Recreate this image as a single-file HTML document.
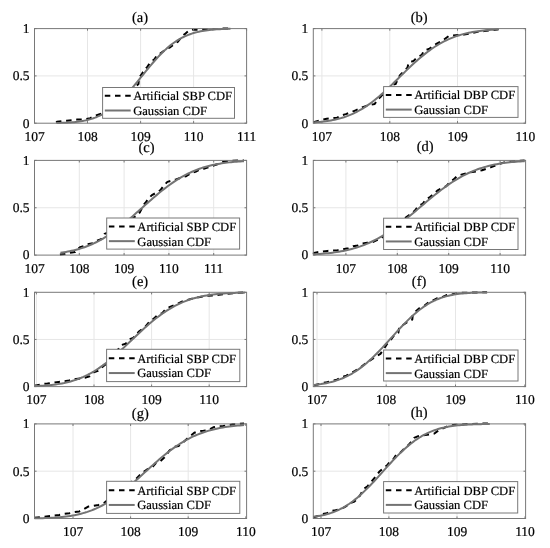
<!DOCTYPE html>
<html><head><meta charset="utf-8"><title>CDF comparison</title>
<style>
html,body{margin:0;padding:0;background:#fff;}
svg{display:block;}
text{font-family:"Liberation Serif","Times New Roman",serif;fill:#000;text-rendering:geometricPrecision;stroke:#000;stroke-width:0.2px;}
.tk{font-size:13.5px;}
.tt{font-size:14.5px;}
.lg{font-size:12.6px;}
</style></head><body>
<svg width="550" height="548" viewBox="0 0 550 548">
<rect width="550" height="548" fill="#fff"/>
<g>
<line x1="87.5" y1="28.6" x2="87.5" y2="123.2" stroke="#e6e6e6" stroke-width="1"/>
<line x1="140.6" y1="28.6" x2="140.6" y2="123.2" stroke="#e6e6e6" stroke-width="1"/>
<line x1="193.6" y1="28.6" x2="193.6" y2="123.2" stroke="#e6e6e6" stroke-width="1"/>
<line x1="34.5" y1="75.9" x2="246.6" y2="75.9" stroke="#e6e6e6" stroke-width="1"/>
<polyline points="56.4,122.6 56.9,121.8 61.8,121.1 66.7,120.8 72.1,120.3 77,119.6 82.4,119.6 90.3,118.2 92.2,117.2 96.7,115.2 101.1,113.7 112,105 124,95.5 133,88.5 136.6,85.7 138.5,83.9 138.9,78 141.6,74.4 144.4,69.8 147.5,66.6 150.3,62.5 154.4,59.4 157.1,55.3 159.8,53.9 163,51.5 167.1,48.4 169.8,47.6 175.2,43.1 177.7,41.8 182.8,35.5 184.7,34.2 188.5,31 192.4,29.7 199.4,29.7 203.2,29.3 208.3,29.3 213.4,29.1 219.7,28.8 224.2,28.5 230,28.5" fill="none" stroke="#000" stroke-width="2" stroke-dasharray="5.5 4.7" stroke-linejoin="round"/>
<polyline points="56.4,123.01 58.16,122.97 59.92,122.93 61.68,122.87 63.43,122.81 65.19,122.73 66.95,122.64 68.71,122.54 70.47,122.42 72.23,122.29 73.99,122.13 75.74,121.95 77.5,121.75 79.26,121.51 81.02,121.25 82.78,120.95 84.54,120.61 86.3,120.24 88.05,119.82 89.81,119.35 91.57,118.84 93.33,118.27 95.09,117.64 96.85,116.95 98.61,116.2 100.36,115.38 102.12,114.5 103.88,113.54 105.64,112.51 107.4,111.4 109.16,110.22 110.92,108.95 112.67,107.62 114.43,106.2 116.19,104.7 117.95,103.14 119.71,101.49 121.47,99.78 123.23,97.99 124.98,96.15 126.74,94.24 128.5,92.28 130.26,90.26 132.02,88.21 133.78,86.11 135.54,83.98 137.29,81.83 139.05,79.66 140.81,77.48 142.57,75.3 144.33,73.12 146.09,70.95 147.85,68.8 149.61,66.67 151.36,64.58 153.12,62.52 154.88,60.51 156.64,58.55 158.4,56.64 160.16,54.79 161.92,53.01 163.67,51.29 165.43,49.64 167.19,48.07 168.95,46.57 170.71,45.14 172.47,43.79 174.23,42.51 175.98,41.31 177.74,40.18 179.5,39.13 181.26,38.14 183.02,37.23 184.78,36.38 186.54,35.6 188.29,34.88 190.05,34.22 191.81,33.62 193.57,33.07 195.33,32.57 197.09,32.11 198.85,31.7 200.6,31.33 202.36,31 204.12,30.7 205.88,30.44 207.64,30.2 209.4,29.99 211.16,29.81 212.91,29.64 214.67,29.5 216.43,29.37 218.19,29.26 219.95,29.17 221.71,29.08 223.47,29.01 225.22,28.95 226.98,28.9 228.74,28.85 230.5,28.81" fill="none" stroke="#737373" stroke-width="2" stroke-linejoin="round"/>
<rect x="34.5" y="28.6" width="212.1" height="94.6" fill="none" stroke="#787878" stroke-width="1"/>
<line x1="34.5" y1="123.2" x2="34.5" y2="121.1" stroke="#787878" stroke-width="1"/>
<line x1="34.5" y1="28.6" x2="34.5" y2="30.7" stroke="#787878" stroke-width="1"/>
<line x1="87.5" y1="123.2" x2="87.5" y2="121.1" stroke="#787878" stroke-width="1"/>
<line x1="87.5" y1="28.6" x2="87.5" y2="30.7" stroke="#787878" stroke-width="1"/>
<line x1="140.6" y1="123.2" x2="140.6" y2="121.1" stroke="#787878" stroke-width="1"/>
<line x1="140.6" y1="28.6" x2="140.6" y2="30.7" stroke="#787878" stroke-width="1"/>
<line x1="193.6" y1="123.2" x2="193.6" y2="121.1" stroke="#787878" stroke-width="1"/>
<line x1="193.6" y1="28.6" x2="193.6" y2="30.7" stroke="#787878" stroke-width="1"/>
<line x1="246.6" y1="123.2" x2="246.6" y2="121.1" stroke="#787878" stroke-width="1"/>
<line x1="246.6" y1="28.6" x2="246.6" y2="30.7" stroke="#787878" stroke-width="1"/>
<line x1="34.5" y1="28.6" x2="36.6" y2="28.6" stroke="#787878" stroke-width="1"/>
<line x1="246.6" y1="28.6" x2="244.5" y2="28.6" stroke="#787878" stroke-width="1"/>
<line x1="34.5" y1="75.9" x2="36.6" y2="75.9" stroke="#787878" stroke-width="1"/>
<line x1="246.6" y1="75.9" x2="244.5" y2="75.9" stroke="#787878" stroke-width="1"/>
<line x1="34.5" y1="123.2" x2="36.6" y2="123.2" stroke="#787878" stroke-width="1"/>
<line x1="246.6" y1="123.2" x2="244.5" y2="123.2" stroke="#787878" stroke-width="1"/>
<text class="tk" x="34.5" y="140.8" text-anchor="middle">107</text>
<text class="tk" x="87.5" y="140.8" text-anchor="middle">108</text>
<text class="tk" x="140.6" y="140.8" text-anchor="middle">109</text>
<text class="tk" x="193.6" y="140.8" text-anchor="middle">110</text>
<text class="tk" x="246.6" y="140.8" text-anchor="middle">111</text>
<text class="tk" x="29.5" y="127.5" text-anchor="end">0</text>
<text class="tk" x="29.5" y="80.2" text-anchor="end">0.5</text>
<text class="tk" x="29.5" y="32.9" text-anchor="end">1</text>
<text class="tt" x="140" y="21.9" text-anchor="middle">(a)</text>
<rect x="102.6" y="87.5" width="131.9" height="30.8" fill="#fff" stroke="#787878" stroke-width="1"/>
<line x1="104.8" y1="95.8" x2="130.7" y2="95.8" stroke="#000" stroke-width="2" stroke-dasharray="5.5 4.7"/>
<line x1="104.8" y1="110.5" x2="130.7" y2="110.5" stroke="#737373" stroke-width="2"/>
<text class="lg" x="133.2" y="100.2">Artificial SBP CDF</text>
<text class="lg" x="133.2" y="114.9">Gaussian CDF</text>
</g>
<g>
<line x1="321.9" y1="28.6" x2="321.9" y2="123.2" stroke="#e6e6e6" stroke-width="1"/>
<line x1="389.8" y1="28.6" x2="389.8" y2="123.2" stroke="#e6e6e6" stroke-width="1"/>
<line x1="457.5" y1="28.6" x2="457.5" y2="123.2" stroke="#e6e6e6" stroke-width="1"/>
<line x1="313.3" y1="75.9" x2="525.6" y2="75.9" stroke="#e6e6e6" stroke-width="1"/>
<polyline points="313.5,122.3 318,121 323.5,119.5 326.7,118.8 332.2,118.2 337.1,117.7 342,115.2 345.8,114.1 351.8,111.9 355.6,110.3 362,107.5 369.7,105 374.7,104.1 377.5,99.5 380.2,97.3 386,90.5 392.9,84.5 395.6,84.1 398.4,77.7 400.2,75 404.7,70.5 407.5,67.7 408.6,62.7 413.6,60.9 417.3,57.3 421.8,55 424,50.5 429,49 433.2,45.9 436.8,43.6 441,41.4 442.7,40.5 448.8,36 453.2,35.5 461.4,34.9 464.1,34.6 469,33.8 473.4,32.7 478.8,31.6 484.3,31.1 489.7,30.5 494.1,30 498.5,29.2" fill="none" stroke="#000" stroke-width="2" stroke-dasharray="5.5 4.7" stroke-linejoin="round"/>
<polyline points="314.2,122.35 316.06,122.22 317.92,122.08 319.78,121.91 321.65,121.73 323.51,121.52 325.37,121.29 327.23,121.03 329.09,120.75 330.95,120.43 332.82,120.09 334.68,119.71 336.54,119.29 338.4,118.83 340.26,118.34 342.12,117.8 343.99,117.22 345.85,116.59 347.71,115.91 349.57,115.18 351.43,114.4 353.29,113.57 355.16,112.68 357.02,111.74 358.88,110.74 360.74,109.68 362.6,108.57 364.46,107.4 366.33,106.18 368.19,104.9 370.05,103.57 371.91,102.18 373.77,100.75 375.63,99.26 377.49,97.73 379.36,96.15 381.22,94.53 383.08,92.88 384.94,91.18 386.8,89.46 388.66,87.71 390.53,85.93 392.39,84.13 394.25,82.32 396.11,80.5 397.97,78.67 399.83,76.84 401.7,75 403.56,73.18 405.42,71.36 407.28,69.56 409.14,67.78 411,66.02 412.87,64.29 414.73,62.58 416.59,60.91 418.45,59.27 420.31,57.67 422.17,56.12 424.04,54.6 425.9,53.13 427.76,51.71 429.62,50.34 431.48,49.02 433.34,47.74 435.21,46.52 437.07,45.35 438.93,44.24 440.79,43.17 442.65,42.15 444.51,41.19 446.37,40.28 448.24,39.41 450.1,38.6 451.96,37.83 453.82,37.11 455.68,36.43 457.54,35.79 459.41,35.2 461.27,34.64 463.13,34.13 464.99,33.65 466.85,33.2 468.71,32.79 470.58,32.41 472.44,32.05 474.3,31.73 476.16,31.43 478.02,31.16 479.88,30.91 481.75,30.68 483.61,30.47 485.47,30.28 487.33,30.11 489.19,29.95 491.05,29.81 492.92,29.68 494.78,29.56 496.64,29.46 498.5,29.36" fill="none" stroke="#737373" stroke-width="2" stroke-linejoin="round"/>
<rect x="313.3" y="28.6" width="212.3" height="94.6" fill="none" stroke="#787878" stroke-width="1"/>
<line x1="321.9" y1="123.2" x2="321.9" y2="121.1" stroke="#787878" stroke-width="1"/>
<line x1="321.9" y1="28.6" x2="321.9" y2="30.7" stroke="#787878" stroke-width="1"/>
<line x1="389.8" y1="123.2" x2="389.8" y2="121.1" stroke="#787878" stroke-width="1"/>
<line x1="389.8" y1="28.6" x2="389.8" y2="30.7" stroke="#787878" stroke-width="1"/>
<line x1="457.5" y1="123.2" x2="457.5" y2="121.1" stroke="#787878" stroke-width="1"/>
<line x1="457.5" y1="28.6" x2="457.5" y2="30.7" stroke="#787878" stroke-width="1"/>
<line x1="525.4" y1="123.2" x2="525.4" y2="121.1" stroke="#787878" stroke-width="1"/>
<line x1="525.4" y1="28.6" x2="525.4" y2="30.7" stroke="#787878" stroke-width="1"/>
<line x1="313.3" y1="28.6" x2="315.4" y2="28.6" stroke="#787878" stroke-width="1"/>
<line x1="525.6" y1="28.6" x2="523.5" y2="28.6" stroke="#787878" stroke-width="1"/>
<line x1="313.3" y1="75.9" x2="315.4" y2="75.9" stroke="#787878" stroke-width="1"/>
<line x1="525.6" y1="75.9" x2="523.5" y2="75.9" stroke="#787878" stroke-width="1"/>
<line x1="313.3" y1="123.2" x2="315.4" y2="123.2" stroke="#787878" stroke-width="1"/>
<line x1="525.6" y1="123.2" x2="523.5" y2="123.2" stroke="#787878" stroke-width="1"/>
<text class="tk" x="321.9" y="140.8" text-anchor="middle">107</text>
<text class="tk" x="389.8" y="140.8" text-anchor="middle">108</text>
<text class="tk" x="457.5" y="140.8" text-anchor="middle">109</text>
<text class="tk" x="525.4" y="140.8" text-anchor="middle">110</text>
<text class="tk" x="308.3" y="127.5" text-anchor="end">0</text>
<text class="tk" x="308.3" y="80.2" text-anchor="end">0.5</text>
<text class="tk" x="308.3" y="32.9" text-anchor="end">1</text>
<text class="tt" x="419.2" y="22" text-anchor="middle">(b)</text>
<rect x="383.6" y="86.6" width="134.4" height="30.8" fill="#fff" stroke="#787878" stroke-width="1"/>
<line x1="385.8" y1="94.9" x2="411.7" y2="94.9" stroke="#000" stroke-width="2" stroke-dasharray="5.5 4.7"/>
<line x1="385.8" y1="109.6" x2="411.7" y2="109.6" stroke="#737373" stroke-width="2"/>
<text class="lg" x="414.2" y="99.3">Artificial DBP CDF</text>
<text class="lg" x="414.2" y="114">Gaussian CDF</text>
</g>
<g>
<line x1="79.3" y1="160.4" x2="79.3" y2="255.1" stroke="#e6e6e6" stroke-width="1"/>
<line x1="124.1" y1="160.4" x2="124.1" y2="255.1" stroke="#e6e6e6" stroke-width="1"/>
<line x1="168.9" y1="160.4" x2="168.9" y2="255.1" stroke="#e6e6e6" stroke-width="1"/>
<line x1="213.7" y1="160.4" x2="213.7" y2="255.1" stroke="#e6e6e6" stroke-width="1"/>
<line x1="34.5" y1="207.75" x2="246.6" y2="207.75" stroke="#e6e6e6" stroke-width="1"/>
<polyline points="59.9,254.5 64.8,254 70.2,252.7 75.1,252 80,247.1 83.5,246.1 87.4,244.2 92.8,243.2 96.7,240.7 101.1,239.2 104.6,233.9 107,232.9 120,225 132,218.5 137.8,215.1 140.1,211.9 143.3,205.1 145.5,202.8 148.7,198.3 151.9,195.1 156.9,192.4 160.5,190.1 164.2,185.1 167.4,181.9 172.4,180.5 175.5,179.6 181.4,177.5 186.1,176.2 191.5,172.8 196.2,171.5 199.6,169.5 205,168.4 209.7,166.8 211.7,166.1 219.8,163.4 222.5,162.1 231.9,160.7 244,160.4" fill="none" stroke="#000" stroke-width="2" stroke-dasharray="5.5 4.7" stroke-linejoin="round"/>
<polyline points="60.4,252.77 62.25,252.51 64.11,252.23 65.96,251.92 67.82,251.59 69.67,251.23 71.53,250.84 73.38,250.42 75.24,249.97 77.09,249.48 78.95,248.96 80.8,248.41 82.65,247.81 84.51,247.18 86.36,246.51 88.22,245.79 90.07,245.04 91.93,244.24 93.78,243.4 95.64,242.51 97.49,241.58 99.35,240.6 101.2,239.58 103.05,238.51 104.91,237.4 106.76,236.25 108.62,235.05 110.47,233.81 112.33,232.52 114.18,231.2 116.04,229.84 117.89,228.44 119.75,227 121.6,225.53 123.45,224.03 125.31,222.5 127.16,220.95 129.02,219.37 130.87,217.77 132.73,216.15 134.58,214.52 136.44,212.87 138.29,211.22 140.15,209.55 142,207.89 143.85,206.23 145.71,204.57 147.56,202.92 149.42,201.28 151.27,199.65 153.13,198.04 154.98,196.45 156.84,194.88 158.69,193.33 160.55,191.81 162.4,190.32 164.25,188.87 166.11,187.44 167.96,186.05 169.82,184.7 171.67,183.39 173.53,182.12 175.38,180.89 177.24,179.7 179.09,178.56 180.95,177.45 182.8,176.39 184.65,175.38 186.51,174.41 188.36,173.48 190.22,172.6 192.07,171.75 193.93,170.96 195.78,170.2 197.64,169.48 199.49,168.8 201.35,168.16 203.2,167.56 205.05,167 206.91,166.47 208.76,165.97 210.62,165.51 212.47,165.08 214.33,164.68 216.18,164.3 218.04,163.96 219.89,163.64 221.75,163.34 223.6,163.07 225.45,162.82 227.31,162.59 229.16,162.37 231.02,162.18 232.87,162 234.73,161.84 236.58,161.69 238.44,161.56 240.29,161.43 242.15,161.32 244,161.22" fill="none" stroke="#737373" stroke-width="2" stroke-linejoin="round"/>
<rect x="34.5" y="160.4" width="212.1" height="94.7" fill="none" stroke="#787878" stroke-width="1"/>
<line x1="34.5" y1="255.1" x2="34.5" y2="253" stroke="#787878" stroke-width="1"/>
<line x1="34.5" y1="160.4" x2="34.5" y2="162.5" stroke="#787878" stroke-width="1"/>
<line x1="79.3" y1="255.1" x2="79.3" y2="253" stroke="#787878" stroke-width="1"/>
<line x1="79.3" y1="160.4" x2="79.3" y2="162.5" stroke="#787878" stroke-width="1"/>
<line x1="124.1" y1="255.1" x2="124.1" y2="253" stroke="#787878" stroke-width="1"/>
<line x1="124.1" y1="160.4" x2="124.1" y2="162.5" stroke="#787878" stroke-width="1"/>
<line x1="168.9" y1="255.1" x2="168.9" y2="253" stroke="#787878" stroke-width="1"/>
<line x1="168.9" y1="160.4" x2="168.9" y2="162.5" stroke="#787878" stroke-width="1"/>
<line x1="213.7" y1="255.1" x2="213.7" y2="253" stroke="#787878" stroke-width="1"/>
<line x1="213.7" y1="160.4" x2="213.7" y2="162.5" stroke="#787878" stroke-width="1"/>
<line x1="34.5" y1="160.4" x2="36.6" y2="160.4" stroke="#787878" stroke-width="1"/>
<line x1="246.6" y1="160.4" x2="244.5" y2="160.4" stroke="#787878" stroke-width="1"/>
<line x1="34.5" y1="207.75" x2="36.6" y2="207.75" stroke="#787878" stroke-width="1"/>
<line x1="246.6" y1="207.75" x2="244.5" y2="207.75" stroke="#787878" stroke-width="1"/>
<line x1="34.5" y1="255.1" x2="36.6" y2="255.1" stroke="#787878" stroke-width="1"/>
<line x1="246.6" y1="255.1" x2="244.5" y2="255.1" stroke="#787878" stroke-width="1"/>
<text class="tk" x="34.5" y="272.7" text-anchor="middle">107</text>
<text class="tk" x="79.3" y="272.7" text-anchor="middle">108</text>
<text class="tk" x="124.1" y="272.7" text-anchor="middle">109</text>
<text class="tk" x="168.9" y="272.7" text-anchor="middle">110</text>
<text class="tk" x="213.7" y="272.7" text-anchor="middle">111</text>
<text class="tk" x="29.5" y="259.4" text-anchor="end">0</text>
<text class="tk" x="29.5" y="212.05" text-anchor="end">0.5</text>
<text class="tk" x="29.5" y="164.7" text-anchor="end">1</text>
<text class="tt" x="146.5" y="151.6" text-anchor="middle">(c)</text>
<rect x="106.7" y="218" width="132.9" height="31.1" fill="#fff" stroke="#787878" stroke-width="1"/>
<line x1="108.9" y1="226.45" x2="134.8" y2="226.45" stroke="#000" stroke-width="2" stroke-dasharray="5.5 4.7"/>
<line x1="108.9" y1="241.15" x2="134.8" y2="241.15" stroke="#737373" stroke-width="2"/>
<text class="lg" x="137.3" y="230.85">Artificial SBP CDF</text>
<text class="lg" x="137.3" y="245.55">Gaussian CDF</text>
</g>
<g>
<line x1="345.9" y1="160.4" x2="345.9" y2="255.1" stroke="#e6e6e6" stroke-width="1"/>
<line x1="397.3" y1="160.4" x2="397.3" y2="255.1" stroke="#e6e6e6" stroke-width="1"/>
<line x1="448.7" y1="160.4" x2="448.7" y2="255.1" stroke="#e6e6e6" stroke-width="1"/>
<line x1="500.1" y1="160.4" x2="500.1" y2="255.1" stroke="#e6e6e6" stroke-width="1"/>
<line x1="313.3" y1="207.75" x2="525.6" y2="207.75" stroke="#e6e6e6" stroke-width="1"/>
<polyline points="313.3,253.8 314,252.9 317.4,252.2 322.8,251.6 327.5,250.9 332.2,250.5 337.6,250.2 344.3,248.9 348.3,248.2 353,246.2 357.8,245.5 362.5,243.5 367.2,242.8 372.6,242.2 375.3,240.8 382,238.1 383.3,236.1 395,226 405,218 411.2,213.8 414.7,210.8 418.6,205.9 422.5,204 426,199.6 429.9,197.1 434.3,193.7 437.3,190.7 442.2,187.8 446.1,186.3 450,182 453.7,179.4 457.2,175.9 462.2,174.4 469,172.5 476.4,171.3 482,170.2 487,168.5 490.6,167.3 498,164.5 505.4,162 510.4,161.4 516,161 520.3,160.7 524.6,160.6" fill="none" stroke="#000" stroke-width="2" stroke-dasharray="5.5 4.7" stroke-linejoin="round"/>
<polyline points="313.3,254.26 315.43,254.15 317.57,254.02 319.7,253.88 321.84,253.72 323.97,253.55 326.11,253.35 328.24,253.14 330.37,252.91 332.51,252.65 334.64,252.37 336.78,252.06 338.91,251.72 341.05,251.35 343.18,250.95 345.32,250.51 347.45,250.04 349.58,249.54 351.72,248.99 353.85,248.4 355.99,247.77 358.12,247.09 360.26,246.37 362.39,245.6 364.52,244.78 366.66,243.92 368.79,243 370.93,242.03 373.06,241.01 375.2,239.93 377.33,238.81 379.46,237.63 381.6,236.4 383.73,235.11 385.87,233.78 388,232.4 390.14,230.96 392.27,229.49 394.41,227.96 396.54,226.4 398.67,224.8 400.81,223.16 402.94,221.48 405.08,219.78 407.21,218.04 409.35,216.29 411.48,214.51 413.61,212.72 415.75,210.91 417.88,209.1 420.02,207.29 422.15,205.47 424.29,203.66 426.42,201.86 428.55,200.07 430.69,198.29 432.82,196.54 434.96,194.82 437.09,193.12 439.23,191.45 441.36,189.82 443.49,188.22 445.63,186.67 447.76,185.16 449.9,183.69 452.03,182.28 454.17,180.91 456.3,179.59 458.44,178.32 460.57,177.11 462.7,175.95 464.84,174.84 466.97,173.78 469.11,172.78 471.24,171.83 473.38,170.94 475.51,170.09 477.64,169.3 479.78,168.55 481.91,167.85 484.05,167.2 486.18,166.59 488.32,166.02 490.45,165.5 492.58,165.02 494.72,164.57 496.85,164.16 498.99,163.78 501.12,163.43 503.26,163.11 505.39,162.83 507.53,162.56 509.66,162.32 511.79,162.11 513.93,161.91 516.06,161.74 518.2,161.58 520.33,161.44 522.47,161.31 524.6,161.2" fill="none" stroke="#737373" stroke-width="2" stroke-linejoin="round"/>
<rect x="313.3" y="160.4" width="212.3" height="94.7" fill="none" stroke="#787878" stroke-width="1"/>
<line x1="345.9" y1="255.1" x2="345.9" y2="253" stroke="#787878" stroke-width="1"/>
<line x1="345.9" y1="160.4" x2="345.9" y2="162.5" stroke="#787878" stroke-width="1"/>
<line x1="397.3" y1="255.1" x2="397.3" y2="253" stroke="#787878" stroke-width="1"/>
<line x1="397.3" y1="160.4" x2="397.3" y2="162.5" stroke="#787878" stroke-width="1"/>
<line x1="448.7" y1="255.1" x2="448.7" y2="253" stroke="#787878" stroke-width="1"/>
<line x1="448.7" y1="160.4" x2="448.7" y2="162.5" stroke="#787878" stroke-width="1"/>
<line x1="500.1" y1="255.1" x2="500.1" y2="253" stroke="#787878" stroke-width="1"/>
<line x1="500.1" y1="160.4" x2="500.1" y2="162.5" stroke="#787878" stroke-width="1"/>
<line x1="313.3" y1="160.4" x2="315.4" y2="160.4" stroke="#787878" stroke-width="1"/>
<line x1="525.6" y1="160.4" x2="523.5" y2="160.4" stroke="#787878" stroke-width="1"/>
<line x1="313.3" y1="207.75" x2="315.4" y2="207.75" stroke="#787878" stroke-width="1"/>
<line x1="525.6" y1="207.75" x2="523.5" y2="207.75" stroke="#787878" stroke-width="1"/>
<line x1="313.3" y1="255.1" x2="315.4" y2="255.1" stroke="#787878" stroke-width="1"/>
<line x1="525.6" y1="255.1" x2="523.5" y2="255.1" stroke="#787878" stroke-width="1"/>
<text class="tk" x="345.9" y="272.7" text-anchor="middle">107</text>
<text class="tk" x="397.3" y="272.7" text-anchor="middle">108</text>
<text class="tk" x="448.7" y="272.7" text-anchor="middle">109</text>
<text class="tk" x="500.1" y="272.7" text-anchor="middle">110</text>
<text class="tk" x="308.3" y="259.4" text-anchor="end">0</text>
<text class="tk" x="308.3" y="212.05" text-anchor="end">0.5</text>
<text class="tk" x="308.3" y="164.7" text-anchor="end">1</text>
<text class="tt" x="425.2" y="150.9" text-anchor="middle">(d)</text>
<rect x="383.6" y="218.2" width="134.4" height="31.3" fill="#fff" stroke="#787878" stroke-width="1"/>
<line x1="385.8" y1="226.75" x2="411.7" y2="226.75" stroke="#000" stroke-width="2" stroke-dasharray="5.5 4.7"/>
<line x1="385.8" y1="241.45" x2="411.7" y2="241.45" stroke="#737373" stroke-width="2"/>
<text class="lg" x="414.2" y="231.15">Artificial DBP CDF</text>
<text class="lg" x="414.2" y="245.85">Gaussian CDF</text>
</g>
<g>
<line x1="36.4" y1="292.3" x2="36.4" y2="386.6" stroke="#e6e6e6" stroke-width="1"/>
<line x1="94" y1="292.3" x2="94" y2="386.6" stroke="#e6e6e6" stroke-width="1"/>
<line x1="151.6" y1="292.3" x2="151.6" y2="386.6" stroke="#e6e6e6" stroke-width="1"/>
<line x1="209.2" y1="292.3" x2="209.2" y2="386.6" stroke="#e6e6e6" stroke-width="1"/>
<line x1="34.5" y1="339.45" x2="246.6" y2="339.45" stroke="#e6e6e6" stroke-width="1"/>
<polyline points="34.4,385.8 43.4,383.9 47.5,383.5 53.7,382.6 58.6,381.9 64.1,381.2 68.9,380.5 76,379 84.8,377.7 89.6,376.3 93.8,372.2 97.9,370.8 102.7,366.7 106.2,363.9 114,356 120.9,345.2 125.8,343.7 129.2,339.3 133.2,337.9 137.6,333 139.6,331 145,327 149.9,321.2 153.8,318.7 157.7,314.8 162.1,313.3 166,308.9 170,306.9 176,304.5 184.7,300.3 187.6,299.9 195,298 205,296 213.1,295.5 218.9,294.8 225,294 235,293 245,292.4" fill="none" stroke="#000" stroke-width="2" stroke-dasharray="5.5 4.7" stroke-linejoin="round"/>
<polyline points="34.4,386.12 36.53,386.03 38.66,385.93 40.78,385.82 42.91,385.69 45.04,385.54 47.17,385.37 49.3,385.18 51.43,384.96 53.55,384.71 55.68,384.44 57.81,384.13 59.94,383.78 62.07,383.4 64.2,382.98 66.32,382.51 68.45,382 70.58,381.44 72.71,380.82 74.84,380.15 76.97,379.43 79.09,378.64 81.22,377.79 83.35,376.88 85.48,375.91 87.61,374.86 89.74,373.75 91.86,372.57 93.99,371.33 96.12,370.01 98.25,368.63 100.38,367.18 102.51,365.67 104.63,364.09 106.76,362.45 108.89,360.76 111.02,359.01 113.15,357.21 115.27,355.36 117.4,353.48 119.53,351.55 121.66,349.6 123.79,347.61 125.92,345.61 128.04,343.59 130.17,341.57 132.3,339.54 134.43,337.51 136.56,335.49 138.69,333.49 140.81,331.5 142.94,329.54 145.07,327.61 147.2,325.72 149.33,323.87 151.46,322.06 153.58,320.3 155.71,318.59 157.84,316.94 159.97,315.34 162.1,313.8 164.23,312.33 166.35,310.92 168.48,309.57 170.61,308.29 172.74,307.07 174.87,305.91 176.99,304.82 179.12,303.8 181.25,302.83 183.38,301.93 185.51,301.08 187.64,300.29 189.76,299.56 191.89,298.88 194.02,298.25 196.15,297.67 198.28,297.14 200.41,296.65 202.53,296.2 204.66,295.79 206.79,295.42 208.92,295.08 211.05,294.77 213.18,294.49 215.3,294.24 217.43,294.02 219.56,293.81 221.69,293.63 223.82,293.47 225.95,293.33 228.07,293.2 230.2,293.08 232.33,292.98 234.46,292.89 236.59,292.81 238.72,292.74 240.84,292.68 242.97,292.63 245.1,292.58" fill="none" stroke="#737373" stroke-width="2" stroke-linejoin="round"/>
<rect x="34.5" y="292.3" width="212.1" height="94.3" fill="none" stroke="#787878" stroke-width="1"/>
<line x1="36.4" y1="386.6" x2="36.4" y2="384.5" stroke="#787878" stroke-width="1"/>
<line x1="36.4" y1="292.3" x2="36.4" y2="294.4" stroke="#787878" stroke-width="1"/>
<line x1="94" y1="386.6" x2="94" y2="384.5" stroke="#787878" stroke-width="1"/>
<line x1="94" y1="292.3" x2="94" y2="294.4" stroke="#787878" stroke-width="1"/>
<line x1="151.6" y1="386.6" x2="151.6" y2="384.5" stroke="#787878" stroke-width="1"/>
<line x1="151.6" y1="292.3" x2="151.6" y2="294.4" stroke="#787878" stroke-width="1"/>
<line x1="209.2" y1="386.6" x2="209.2" y2="384.5" stroke="#787878" stroke-width="1"/>
<line x1="209.2" y1="292.3" x2="209.2" y2="294.4" stroke="#787878" stroke-width="1"/>
<line x1="34.5" y1="292.3" x2="36.6" y2="292.3" stroke="#787878" stroke-width="1"/>
<line x1="246.6" y1="292.3" x2="244.5" y2="292.3" stroke="#787878" stroke-width="1"/>
<line x1="34.5" y1="339.45" x2="36.6" y2="339.45" stroke="#787878" stroke-width="1"/>
<line x1="246.6" y1="339.45" x2="244.5" y2="339.45" stroke="#787878" stroke-width="1"/>
<line x1="34.5" y1="386.6" x2="36.6" y2="386.6" stroke="#787878" stroke-width="1"/>
<line x1="246.6" y1="386.6" x2="244.5" y2="386.6" stroke="#787878" stroke-width="1"/>
<text class="tk" x="36.4" y="404.2" text-anchor="middle">107</text>
<text class="tk" x="94" y="404.2" text-anchor="middle">108</text>
<text class="tk" x="151.6" y="404.2" text-anchor="middle">109</text>
<text class="tk" x="209.2" y="404.2" text-anchor="middle">110</text>
<text class="tk" x="29.5" y="390.9" text-anchor="end">0</text>
<text class="tk" x="29.5" y="343.75" text-anchor="end">0.5</text>
<text class="tk" x="29.5" y="296.6" text-anchor="end">1</text>
<text class="tt" x="140.1" y="285.9" text-anchor="middle">(e)</text>
<rect x="106.6" y="349.3" width="133.2" height="32.3" fill="#fff" stroke="#787878" stroke-width="1"/>
<line x1="108.8" y1="358.35" x2="134.7" y2="358.35" stroke="#000" stroke-width="2" stroke-dasharray="5.5 4.7"/>
<line x1="108.8" y1="373.05" x2="134.7" y2="373.05" stroke="#737373" stroke-width="2"/>
<text class="lg" x="137.2" y="362.75">Artificial SBP CDF</text>
<text class="lg" x="137.2" y="377.45">Gaussian CDF</text>
</g>
<g>
<line x1="317" y1="292.3" x2="317" y2="386.6" stroke="#e6e6e6" stroke-width="1"/>
<line x1="386.2" y1="292.3" x2="386.2" y2="386.6" stroke="#e6e6e6" stroke-width="1"/>
<line x1="455.5" y1="292.3" x2="455.5" y2="386.6" stroke="#e6e6e6" stroke-width="1"/>
<line x1="313.3" y1="339.45" x2="525.6" y2="339.45" stroke="#e6e6e6" stroke-width="1"/>
<polyline points="314,385.5 322.8,383 326.8,382.3 332.9,380.7 336.9,379.6 342.3,376.9 346.3,375.6 351.7,372.9 355.1,370.9 361,367 366.5,362.8 370.5,360.1 376.3,356.4 380.4,353.9 383.4,349.5 386.9,344.1 390.2,340.8 394.3,335.1 398.4,332.6 399.2,326.9 402.5,325.3 407.4,322 412.3,319.5 412.8,314.6 415.6,311.4 419.6,308.1 424.6,305.6 428.6,302.4 432.7,300.7 437.4,298 442.2,297.2 447,295 451.8,294.4 457.2,293.2 462,292.8 470,292.6 480,292.4 487,292.3" fill="none" stroke="#000" stroke-width="2" stroke-dasharray="5.5 4.7" stroke-linejoin="round"/>
<polyline points="314,385 315.75,384.8 317.5,384.59 319.25,384.35 321,384.1 322.75,383.81 324.5,383.5 326.25,383.16 328,382.79 329.75,382.39 331.49,381.95 333.24,381.48 334.99,380.96 336.74,380.41 338.49,379.81 340.24,379.17 341.99,378.48 343.74,377.74 345.49,376.95 347.24,376.11 348.99,375.21 350.74,374.26 352.49,373.26 354.24,372.19 355.99,371.07 357.74,369.9 359.49,368.66 361.24,367.37 362.99,366.02 364.74,364.61 366.48,363.14 368.23,361.62 369.98,360.05 371.73,358.43 373.48,356.77 375.23,355.05 376.98,353.3 378.73,351.5 380.48,349.68 382.23,347.82 383.98,345.94 385.73,344.03 387.48,342.11 389.23,340.18 390.98,338.24 392.73,336.3 394.48,334.36 396.23,332.43 397.98,330.52 399.73,328.62 401.47,326.75 403.22,324.91 404.97,323.1 406.72,321.33 408.47,319.61 410.22,317.92 411.97,316.29 413.72,314.71 415.47,313.19 417.22,311.72 418.97,310.31 420.72,308.97 422.47,307.69 424.22,306.47 425.97,305.31 427.72,304.22 429.47,303.19 431.22,302.22 432.97,301.32 434.72,300.47 436.46,299.69 438.21,298.96 439.96,298.29 441.71,297.67 443.46,297.1 445.21,296.57 446.96,296.1 448.71,295.66 450.46,295.27 452.21,294.92 453.96,294.6 455.71,294.31 457.46,294.06 459.21,293.83 460.96,293.62 462.71,293.44 464.46,293.29 466.21,293.15 467.96,293.02 469.71,292.92 471.45,292.83 473.2,292.75 474.95,292.68 476.7,292.62 478.45,292.57 480.2,292.52 481.95,292.49 483.7,292.45 485.45,292.43 487.2,292.4" fill="none" stroke="#737373" stroke-width="2" stroke-linejoin="round"/>
<rect x="313.3" y="292.3" width="212.3" height="94.3" fill="none" stroke="#787878" stroke-width="1"/>
<line x1="317" y1="386.6" x2="317" y2="384.5" stroke="#787878" stroke-width="1"/>
<line x1="317" y1="292.3" x2="317" y2="294.4" stroke="#787878" stroke-width="1"/>
<line x1="386.2" y1="386.6" x2="386.2" y2="384.5" stroke="#787878" stroke-width="1"/>
<line x1="386.2" y1="292.3" x2="386.2" y2="294.4" stroke="#787878" stroke-width="1"/>
<line x1="455.5" y1="386.6" x2="455.5" y2="384.5" stroke="#787878" stroke-width="1"/>
<line x1="455.5" y1="292.3" x2="455.5" y2="294.4" stroke="#787878" stroke-width="1"/>
<line x1="524.8" y1="386.6" x2="524.8" y2="384.5" stroke="#787878" stroke-width="1"/>
<line x1="524.8" y1="292.3" x2="524.8" y2="294.4" stroke="#787878" stroke-width="1"/>
<line x1="313.3" y1="292.3" x2="315.4" y2="292.3" stroke="#787878" stroke-width="1"/>
<line x1="525.6" y1="292.3" x2="523.5" y2="292.3" stroke="#787878" stroke-width="1"/>
<line x1="313.3" y1="339.45" x2="315.4" y2="339.45" stroke="#787878" stroke-width="1"/>
<line x1="525.6" y1="339.45" x2="523.5" y2="339.45" stroke="#787878" stroke-width="1"/>
<line x1="313.3" y1="386.6" x2="315.4" y2="386.6" stroke="#787878" stroke-width="1"/>
<line x1="525.6" y1="386.6" x2="523.5" y2="386.6" stroke="#787878" stroke-width="1"/>
<text class="tk" x="317" y="404.2" text-anchor="middle">107</text>
<text class="tk" x="386.2" y="404.2" text-anchor="middle">108</text>
<text class="tk" x="455.5" y="404.2" text-anchor="middle">109</text>
<text class="tk" x="524.8" y="404.2" text-anchor="middle">110</text>
<text class="tk" x="308.3" y="390.9" text-anchor="end">0</text>
<text class="tk" x="308.3" y="343.75" text-anchor="end">0.5</text>
<text class="tk" x="308.3" y="296.6" text-anchor="end">1</text>
<text class="tt" x="419.1" y="285.7" text-anchor="middle">(f)</text>
<rect x="383.6" y="350" width="134.4" height="31" fill="#fff" stroke="#787878" stroke-width="1"/>
<line x1="385.8" y1="358.4" x2="411.7" y2="358.4" stroke="#000" stroke-width="2" stroke-dasharray="5.5 4.7"/>
<line x1="385.8" y1="373.1" x2="411.7" y2="373.1" stroke="#737373" stroke-width="2"/>
<text class="lg" x="414.2" y="362.8">Artificial DBP CDF</text>
<text class="lg" x="414.2" y="377.5">Gaussian CDF</text>
</g>
<g>
<line x1="73" y1="423.9" x2="73" y2="518.5" stroke="#e6e6e6" stroke-width="1"/>
<line x1="130.6" y1="423.9" x2="130.6" y2="518.5" stroke="#e6e6e6" stroke-width="1"/>
<line x1="188.2" y1="423.9" x2="188.2" y2="518.5" stroke="#e6e6e6" stroke-width="1"/>
<line x1="34.5" y1="471.2" x2="246.6" y2="471.2" stroke="#e6e6e6" stroke-width="1"/>
<polyline points="34.4,517.7 44,516.7 48.2,516.2 53.7,515.6 59.2,514.9 64.1,513.8 69.6,513.2 74.4,512.1 79.3,511.4 83.4,509.3 88.2,506.6 93.1,505.9 98.6,504.9 104,503 118,492 133.4,480.7 135.8,479.2 139.7,475.3 143.7,471.8 147,469.5 150.5,467.9 152.5,466.9 155.9,463 159.9,461.5 164.3,457.6 166.2,455.6 169,451 172.1,448.3 174.1,446.8 178.6,445.9 181.9,443.3 188,438 194.3,432.8 198.3,431.2 203.5,430.8 208.1,430.2 213.3,427.3 217.9,426.2 223.1,426 227.7,425.6 232.9,424.3 244.1,423.6" fill="none" stroke="#000" stroke-width="2" stroke-dasharray="5.5 4.7" stroke-linejoin="round"/>
<polyline points="34.4,518.32 36.52,518.28 38.64,518.24 40.75,518.19 42.87,518.13 44.99,518.06 47.11,517.98 49.23,517.89 51.35,517.78 53.46,517.66 55.58,517.52 57.7,517.36 59.82,517.18 61.94,516.98 64.05,516.75 66.17,516.5 68.29,516.21 70.41,515.89 72.53,515.54 74.65,515.15 76.76,514.72 78.88,514.24 81,513.72 83.12,513.15 85.24,512.53 87.35,511.86 89.47,511.13 91.59,510.35 93.71,509.5 95.83,508.6 97.95,507.63 100.06,506.61 102.18,505.51 104.3,504.36 106.42,503.14 108.54,501.86 110.65,500.51 112.77,499.11 114.89,497.64 117.01,496.12 119.13,494.54 121.25,492.91 123.36,491.23 125.48,489.5 127.6,487.73 129.72,485.92 131.84,484.08 133.95,482.21 136.07,480.32 138.19,478.4 140.31,476.47 142.43,474.53 144.55,472.59 146.66,470.65 148.78,468.72 150.9,466.79 153.02,464.89 155.14,463 157.25,461.14 159.37,459.31 161.49,457.51 163.61,455.75 165.73,454.04 167.85,452.36 169.96,450.74 172.08,449.16 174.2,447.64 176.32,446.17 178.44,444.75 180.55,443.4 182.67,442.09 184.79,440.85 186.91,439.67 189.03,438.54 191.15,437.47 193.26,436.45 195.38,435.5 197.5,434.59 199.62,433.74 201.74,432.95 203.85,432.2 205.97,431.5 208.09,430.85 210.21,430.24 212.33,429.68 214.45,429.16 216.56,428.68 218.68,428.23 220.8,427.82 222.92,427.44 225.04,427.1 227.15,426.78 229.27,426.49 231.39,426.23 233.51,425.99 235.63,425.77 237.75,425.57 239.86,425.39 241.98,425.23 244.1,425.08" fill="none" stroke="#737373" stroke-width="2" stroke-linejoin="round"/>
<rect x="34.5" y="423.9" width="212.1" height="94.6" fill="none" stroke="#787878" stroke-width="1"/>
<line x1="73" y1="518.5" x2="73" y2="516.4" stroke="#787878" stroke-width="1"/>
<line x1="73" y1="423.9" x2="73" y2="426" stroke="#787878" stroke-width="1"/>
<line x1="130.6" y1="518.5" x2="130.6" y2="516.4" stroke="#787878" stroke-width="1"/>
<line x1="130.6" y1="423.9" x2="130.6" y2="426" stroke="#787878" stroke-width="1"/>
<line x1="188.2" y1="518.5" x2="188.2" y2="516.4" stroke="#787878" stroke-width="1"/>
<line x1="188.2" y1="423.9" x2="188.2" y2="426" stroke="#787878" stroke-width="1"/>
<line x1="245.8" y1="518.5" x2="245.8" y2="516.4" stroke="#787878" stroke-width="1"/>
<line x1="245.8" y1="423.9" x2="245.8" y2="426" stroke="#787878" stroke-width="1"/>
<line x1="34.5" y1="423.9" x2="36.6" y2="423.9" stroke="#787878" stroke-width="1"/>
<line x1="246.6" y1="423.9" x2="244.5" y2="423.9" stroke="#787878" stroke-width="1"/>
<line x1="34.5" y1="471.2" x2="36.6" y2="471.2" stroke="#787878" stroke-width="1"/>
<line x1="246.6" y1="471.2" x2="244.5" y2="471.2" stroke="#787878" stroke-width="1"/>
<line x1="34.5" y1="518.5" x2="36.6" y2="518.5" stroke="#787878" stroke-width="1"/>
<line x1="246.6" y1="518.5" x2="244.5" y2="518.5" stroke="#787878" stroke-width="1"/>
<text class="tk" x="73" y="536.1" text-anchor="middle">107</text>
<text class="tk" x="130.6" y="536.1" text-anchor="middle">108</text>
<text class="tk" x="188.2" y="536.1" text-anchor="middle">109</text>
<text class="tk" x="245.8" y="536.1" text-anchor="middle">110</text>
<text class="tk" x="29.5" y="522.8" text-anchor="end">0</text>
<text class="tk" x="29.5" y="475.5" text-anchor="end">0.5</text>
<text class="tk" x="29.5" y="428.2" text-anchor="end">1</text>
<text class="tt" x="140.3" y="418" text-anchor="middle">(g)</text>
<rect x="106.6" y="481.3" width="133.2" height="32.1" fill="#fff" stroke="#787878" stroke-width="1"/>
<line x1="108.8" y1="490.25" x2="134.7" y2="490.25" stroke="#000" stroke-width="2" stroke-dasharray="5.5 4.7"/>
<line x1="108.8" y1="504.95" x2="134.7" y2="504.95" stroke="#737373" stroke-width="2"/>
<text class="lg" x="137.2" y="494.65">Artificial SBP CDF</text>
<text class="lg" x="137.2" y="509.35">Gaussian CDF</text>
</g>
<g>
<line x1="321" y1="423.9" x2="321" y2="518.5" stroke="#e6e6e6" stroke-width="1"/>
<line x1="388.9" y1="423.9" x2="388.9" y2="518.5" stroke="#e6e6e6" stroke-width="1"/>
<line x1="457" y1="423.9" x2="457" y2="518.5" stroke="#e6e6e6" stroke-width="1"/>
<line x1="313.3" y1="471.2" x2="525.6" y2="471.2" stroke="#e6e6e6" stroke-width="1"/>
<polyline points="313.3,517.4 318,516 322.8,514 326.8,513.2 331.5,510.9 335.6,510.3 340.3,508.9 343.6,507.6 348,505 351,502.9 354.4,501.5 359,497 363.8,488.7 367.2,486.7 372,481 376.8,475.2 379.2,471.8 383.7,467.9 387.1,465.4 390,461.5 393.5,459 396.4,454.6 399.9,453.1 403,450 406.2,446.8 408.2,445.3 411.6,441.4 414.1,437.9 418.8,435.9 423.1,435.2 429.5,434.5 434.4,433.5 438.7,430.2 442.2,428.8 448,426 455,424.8 460,424.5 470,424 480,423.6 490,423.4" fill="none" stroke="#000" stroke-width="2" stroke-dasharray="5.5 4.7" stroke-linejoin="round"/>
<polyline points="313.3,516.82 315.08,516.58 316.87,516.32 318.65,516.02 320.43,515.69 322.21,515.32 324,514.92 325.78,514.48 327.56,513.99 329.35,513.46 331.13,512.88 332.91,512.25 334.69,511.56 336.48,510.83 338.26,510.03 340.04,509.18 341.83,508.26 343.61,507.28 345.39,506.24 347.17,505.14 348.96,503.97 350.74,502.73 352.52,501.44 354.31,500.07 356.09,498.65 357.87,497.16 359.65,495.61 361.44,494.01 363.22,492.35 365,490.64 366.78,488.88 368.57,487.08 370.35,485.24 372.13,483.36 373.92,481.45 375.7,479.51 377.48,477.55 379.26,475.58 381.05,473.59 382.83,471.6 384.61,469.62 386.4,467.63 388.18,465.66 389.96,463.71 391.74,461.78 393.53,459.87 395.31,458 397.09,456.16 398.88,454.37 400.66,452.62 402.44,450.91 404.22,449.26 406.01,447.66 407.79,446.12 409.57,444.64 411.36,443.21 413.14,441.85 414.92,440.55 416.7,439.31 418.49,438.14 420.27,437.02 422.05,435.97 423.84,434.98 425.62,434.05 427.4,433.18 429.18,432.36 430.97,431.6 432.75,430.9 434.53,430.24 436.32,429.63 438.1,429.07 439.88,428.56 441.66,428.09 443.45,427.65 445.23,427.26 447.01,426.9 448.79,426.57 450.58,426.27 452.36,426 454.14,425.76 455.93,425.54 457.71,425.35 459.49,425.17 461.27,425.02 463.06,424.88 464.84,424.75 466.62,424.64 468.41,424.55 470.19,424.46 471.97,424.39 473.75,424.32 475.54,424.26 477.32,424.21 479.1,424.17 480.89,424.13 482.67,424.1 484.45,424.07 486.23,424.04 488.02,424.02 489.8,424" fill="none" stroke="#737373" stroke-width="2" stroke-linejoin="round"/>
<rect x="313.3" y="423.9" width="212.3" height="94.6" fill="none" stroke="#787878" stroke-width="1"/>
<line x1="321" y1="518.5" x2="321" y2="516.4" stroke="#787878" stroke-width="1"/>
<line x1="321" y1="423.9" x2="321" y2="426" stroke="#787878" stroke-width="1"/>
<line x1="388.9" y1="518.5" x2="388.9" y2="516.4" stroke="#787878" stroke-width="1"/>
<line x1="388.9" y1="423.9" x2="388.9" y2="426" stroke="#787878" stroke-width="1"/>
<line x1="457" y1="518.5" x2="457" y2="516.4" stroke="#787878" stroke-width="1"/>
<line x1="457" y1="423.9" x2="457" y2="426" stroke="#787878" stroke-width="1"/>
<line x1="525" y1="518.5" x2="525" y2="516.4" stroke="#787878" stroke-width="1"/>
<line x1="525" y1="423.9" x2="525" y2="426" stroke="#787878" stroke-width="1"/>
<line x1="313.3" y1="423.9" x2="315.4" y2="423.9" stroke="#787878" stroke-width="1"/>
<line x1="525.6" y1="423.9" x2="523.5" y2="423.9" stroke="#787878" stroke-width="1"/>
<line x1="313.3" y1="471.2" x2="315.4" y2="471.2" stroke="#787878" stroke-width="1"/>
<line x1="525.6" y1="471.2" x2="523.5" y2="471.2" stroke="#787878" stroke-width="1"/>
<line x1="313.3" y1="518.5" x2="315.4" y2="518.5" stroke="#787878" stroke-width="1"/>
<line x1="525.6" y1="518.5" x2="523.5" y2="518.5" stroke="#787878" stroke-width="1"/>
<text class="tk" x="321" y="536.1" text-anchor="middle">107</text>
<text class="tk" x="388.9" y="536.1" text-anchor="middle">108</text>
<text class="tk" x="457" y="536.1" text-anchor="middle">109</text>
<text class="tk" x="525" y="536.1" text-anchor="middle">110</text>
<text class="tk" x="308.3" y="522.8" text-anchor="end">0</text>
<text class="tk" x="308.3" y="475.5" text-anchor="end">0.5</text>
<text class="tk" x="308.3" y="428.2" text-anchor="end">1</text>
<text class="tt" x="419.2" y="417.1" text-anchor="middle">(h)</text>
<rect x="383.6" y="481.6" width="134.1" height="31.4" fill="#fff" stroke="#787878" stroke-width="1"/>
<line x1="385.8" y1="490.2" x2="411.7" y2="490.2" stroke="#000" stroke-width="2" stroke-dasharray="5.5 4.7"/>
<line x1="385.8" y1="504.9" x2="411.7" y2="504.9" stroke="#737373" stroke-width="2"/>
<text class="lg" x="414.2" y="494.6">Artificial DBP CDF</text>
<text class="lg" x="414.2" y="509.3">Gaussian CDF</text>
</g>
</svg>
</body></html>
